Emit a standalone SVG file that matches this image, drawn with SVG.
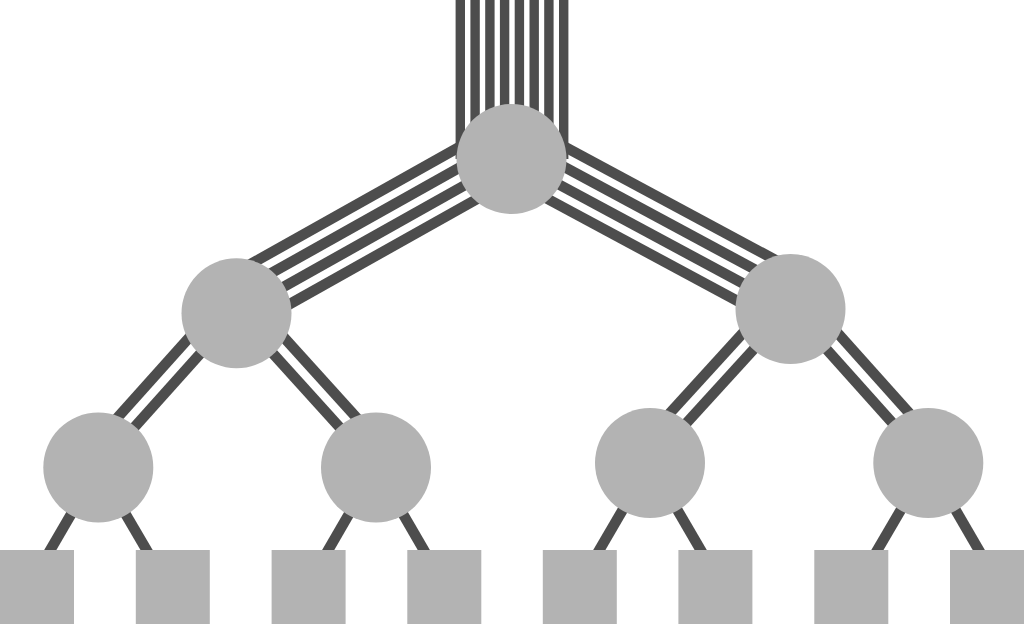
<svg xmlns="http://www.w3.org/2000/svg" width="1024" height="624" viewBox="0 0 1024 624">
<style>
.ln{stroke:#4d4d4d;stroke-width:10.5;fill:none}
.lv{stroke:#4d4d4d;stroke-width:9.4;fill:none}
.nd{fill:#b3b3b3}
</style>
<rect width="1024" height="624" fill="#ffffff"/>
<g id="connectors">
<line class="lv" x1="460.3" y1="-5" x2="460.3" y2="159"/>
<line class="lv" x1="475.1" y1="-5" x2="475.1" y2="159"/>
<line class="lv" x1="489.9" y1="-5" x2="489.9" y2="159"/>
<line class="lv" x1="504.6" y1="-5" x2="504.6" y2="159"/>
<line class="lv" x1="519.4" y1="-5" x2="519.4" y2="159"/>
<line class="lv" x1="534.2" y1="-5" x2="534.2" y2="159"/>
<line class="lv" x1="548.9" y1="-5" x2="548.9" y2="159"/>
<line class="lv" x1="563.7" y1="-5" x2="563.7" y2="159"/>
<line class="ln" x1="493.9" y1="127.6" x2="218.9" y2="281.9"/>
<line class="ln" x1="502.7" y1="143.3" x2="227.7" y2="297.6"/>
<line class="ln" x1="511.5" y1="159" x2="236.5" y2="313.3"/>
<line class="ln" x1="520.3" y1="174.7" x2="245.3" y2="329"/>
<line class="ln" x1="528.6" y1="127.3" x2="807.6" y2="277.3"/>
<line class="ln" x1="520" y1="143.2" x2="799" y2="293.2"/>
<line class="ln" x1="511.5" y1="159" x2="790.5" y2="309"/>
<line class="ln" x1="503" y1="174.9" x2="782" y2="324.9"/>
<line class="ln" x1="222.4" y1="300.6" x2="84.2" y2="454.8"/>
<line class="ln" x1="236.5" y1="313.3" x2="98.3" y2="467.5"/>
<line class="ln" x1="250.6" y1="300.6" x2="390.1" y2="454.8"/>
<line class="ln" x1="236.5" y1="313.3" x2="376" y2="467.5"/>
<line class="ln" x1="776.5" y1="296.2" x2="636" y2="450.2"/>
<line class="ln" x1="790.5" y1="309" x2="650" y2="463"/>
<line class="ln" x1="804.7" y1="296.3" x2="942.5" y2="450.3"/>
<line class="ln" x1="790.5" y1="309" x2="928.3" y2="463"/>
<line class="ln" x1="98.3" y1="467.5" x2="27" y2="590"/>
<line class="ln" x1="98.3" y1="467.5" x2="170" y2="590"/>
<line class="ln" x1="376" y1="467.5" x2="305" y2="590"/>
<line class="ln" x1="376" y1="467.5" x2="447" y2="590"/>
<line class="ln" x1="650" y1="463" x2="576" y2="590"/>
<line class="ln" x1="650" y1="463" x2="724" y2="590"/>
<line class="ln" x1="928.3" y1="463" x2="854" y2="590"/>
<line class="ln" x1="928.3" y1="463" x2="1002" y2="590"/>
</g>
<g id="root"><circle class="nd" cx="511.5" cy="159" r="55"/></g>
<g id="agg-left"><circle class="nd" cx="236.5" cy="313.3" r="55"/></g>
<g id="agg-right"><circle class="nd" cx="790.5" cy="309" r="55"/></g>
<g id="edge-1"><circle class="nd" cx="98.3" cy="467.5" r="55"/></g>
<g id="edge-2"><circle class="nd" cx="376" cy="467.5" r="55"/></g>
<g id="edge-3"><circle class="nd" cx="650" cy="463" r="55"/></g>
<g id="edge-4"><circle class="nd" cx="928.3" cy="463" r="55"/></g>
<g id="host-1"><rect class="nd" x="0" y="550" width="74" height="80"/></g>
<g id="host-2"><rect class="nd" x="135.8" y="550" width="74" height="80"/></g>
<g id="host-3"><rect class="nd" x="271.6" y="550" width="74" height="80"/></g>
<g id="host-4"><rect class="nd" x="407.3" y="550" width="74" height="80"/></g>
<g id="host-5"><rect class="nd" x="542.8" y="550" width="74" height="80"/></g>
<g id="host-6"><rect class="nd" x="678.4" y="550" width="74" height="80"/></g>
<g id="host-7"><rect class="nd" x="814.3" y="550" width="74" height="80"/></g>
<g id="host-8"><rect class="nd" x="950" y="550" width="74" height="80"/></g>
</svg>
